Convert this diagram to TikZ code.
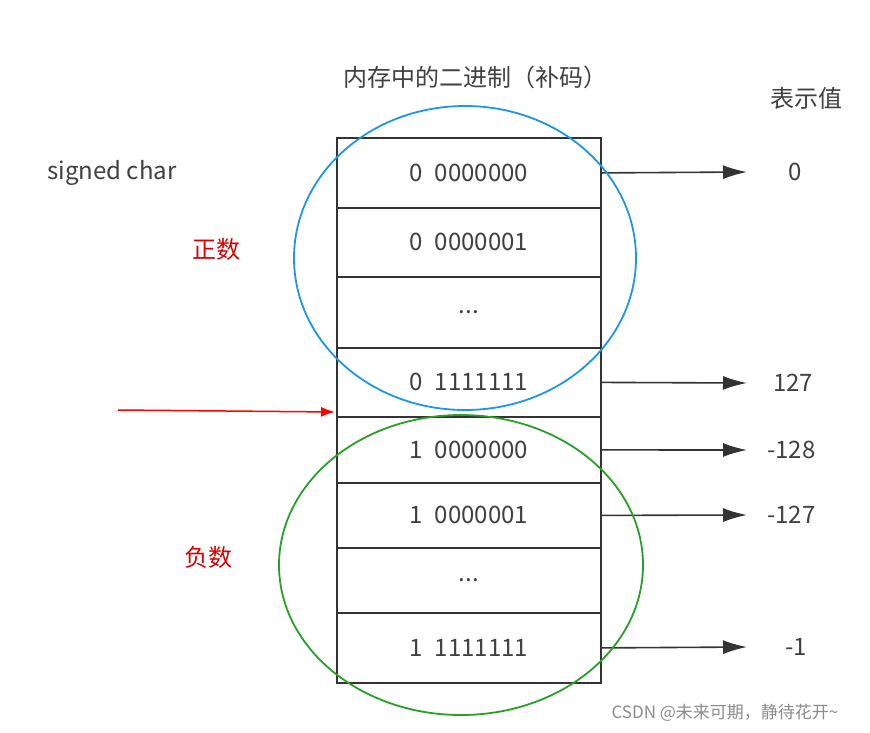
\documentclass[tikz,border=0pt]{standalone}
\usetikzlibrary{arrows.meta}
\usepackage{fontspec}
\setmainfont{Noto Sans CJK SC}
\begin{document}
\begin{tikzpicture}[x=1pt,y=-1pt,
  txt/.style={text=black!75,font=\fontsize{24}{28}\selectfont,inner sep=0pt},
  cell/.style={draw=black!80,line width=1.8pt,minimum width=264pt,anchor=north west,inner sep=0pt,txt},
  arr/.style={draw=black!80,line width=1.6pt,-{Latex[length=24pt,width=14pt]}}]
\useasboundingbox (0,0) rectangle (870,732);
\fill[white] (0,0) rectangle (870,732);
\node[cell,minimum height=70pt] (r1) at (336,137) {0\enspace0000000};
\node[cell,minimum height=69pt] (r2) at (336,207) {0\enspace0000001};
\node[cell,minimum height=71pt] (r3) at (336,276) {...};
\node[cell,minimum height=69pt] (r4) at (336,347) {0\enspace1111111};
\node[cell,minimum height=66pt] (r5) at (336,416) {1\enspace0000000};
\node[cell,minimum height=65pt] (r6) at (336,482) {1\enspace0000001};
\node[cell,minimum height=65pt] (r7) at (336,547) {...};
\node[cell,minimum height=70pt] (r8) at (336,612) {1\enspace1111111};
\node[txt] (title) at (475,77) {内存中的二进制（补码）};
\node[txt] (hdr) at (806,98) {表示值};
\node[txt] (sc) at (112,173) {signed char};
\node[txt,text=red!85!black] (pos) at (216,249) {正数};
\node[txt,text=red!85!black] (neg) at (208,557) {负数};
\node[txt,anchor=west] (v0) at (788,172) {0};
\node[txt,anchor=west] (v1) at (773,383) {127};
\node[txt,anchor=west] (v2) at (767,450) {-128};
\node[txt,anchor=west] (v3) at (767,515) {-127};
\node[txt,anchor=west] (v4) at (785,647) {-1};
\coordinate (e0) at (747,172); \coordinate (e1) at (747,383);
\coordinate (e2) at (747,450); \coordinate (e3) at (747,515);
\coordinate (e4) at (747,647);
\draw[arr] (r1.east) -- (e0);
\draw[arr] (r4.east) -- (e1);
\draw[arr] (r5.east) -- (e2);
\draw[arr] (r6.east) -- (e3);
\draw[arr] (r8.east) -- (e4);
\coordinate (rs) at (118,410); \coordinate (re) at (335,412);
\draw[red,line width=1.5pt,-{Latex[length=14pt,width=10pt]}] (rs) -- (re);
\draw[draw={rgb,255:red,30;green,150;blue,230},line width=1.8pt] (465,258) ellipse [x radius=171,y radius=152];
\draw[draw={rgb,255:red,40;green,160;blue,40},line width=1.8pt] (461,565) ellipse [x radius=182,y radius=150];
\node[text=black!45,font=\fontsize{17}{20}\selectfont] (wm) at (725,713) {CSDN @未来可期，静待花开\textasciitilde};
\end{tikzpicture}
\end{document}
